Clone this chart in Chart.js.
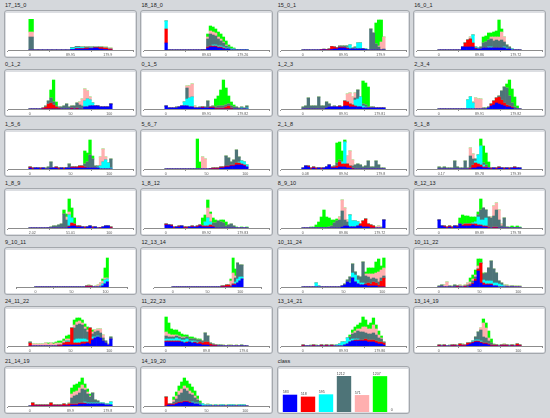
<!DOCTYPE html>
<html>
<head>
<meta charset="utf-8">
<script src="https://cdn.jsdelivr.net/npm/chart.js@4.4.1/dist/chart.umd.min.js"></script>
<style>
  body { margin: 0; width: 550px; height: 418px; overflow: hidden; position: relative;
         background: #d5d8dc; font-family: "Liberation Sans", Arial, sans-serif; }
  .ttl { position: absolute; font-size: 5.5px; line-height: 1; color: #222; white-space: nowrap; }
  .box { position: absolute; width: 131px; height: 46px; border: 1px solid #a4a8ad;
         border-radius: 3px; background: #dcdee2; }
  .box canvas { position: absolute; left: 1px; top: 2px; background: #fff; }
</style>
</head>
<body>
<script>
// class colours, bottom of the stack first
const classColors = ["#0000ff", "#ff0000", "#00ffff", "#4e7478", "#ffafaf", "#00ff00"];

// histogram heights per attribute: [blue, red, cyan, grey, pink, green]
const h17_15_0 = [
  [0,0,0,0,0,0,0,0,0,.5,1,1,1,1.5,2,1,.5,0],
  [0,0,0,0,0,0,0,0,0,0,.5,.5,1,.5,.5,1.5,1.5,1],
  [0,0,0,0,0,0,0,0,0,1.5,1,1,0,.5,0,0,0,0],
  [13,0,0,0,0,0,0,0,0,.5,1,.5,1,.5,.5,.5,0,0],
  [5,0,0,0,0,0,0,0,0,0,0,0,0,0,0,0,1,1],
  [13,0,0,0,0,0,0,0,0,0,0,0,0,0,0,0,0,0]
];
const h18_18_0 = [
  [7,0,0,0,0,0,0,0, 0,0,0,0,0,0,0,0, 2,3,3,3,2,2,1,1, 1,0,0,0,0,0,0,0],
  [14,0,0,0,0,0,0,0, 0,0,0,0,0,0,0,0, 1,1,1,1,1,1,1,0, 0,0,0,0,0,0,0,0],
  [8,0,0,0,0,0,0,0, 0,0,0,0,0,0,0,0, 0,0,1,1,1,1,1,1, 1,1,1,.5,.5,.5,.5,.5],
  [0,0,0,0,0,0,0,0, 0,0,0,0,0,0,.5,.5, 8,12,10,9,7,5,4,2, 1,0,0,0,0,0,0,0],
  [0,0,0,0,0,0,0,0, 0,0,0,0,0,0,0,0, 2,3,3,3,2,2,1,1, 0,0,0,0,0,0,0,0],
  [0,0,0,0,0,0,0,0, 0,0,0,0,0,0,0,0, 3,5,5,4,5,5,5,4, 2,2,1,0,0,0,0,0]
];
const h15_0_1 = [
  [0,0,0,0,0,0,0,0, .3,0,0,.5,1,1,2,2, 2,1,1,1,1,1,1,1, .5,0,0,0,0,0,0,0],
  [0,0,0,0,0,0,0,.5, .5,.5,1,3,2,1,1,1, .5,1,0,0,0,0,0,0, 0,0,0,0,0,0,0,0],
  [0,0,0,0,0,0,0,0, 0,0,0,0,0,0,0,0, 0,1,4,0,1,6,6,0, .5,.5,0,0,0,0,0,0],
  [0,0,0,0,0,0,0,0, 0,0,0,0,0,.5,1,1, 1.5,1,0,1,1,0,0,.5, 0,0,21,17,6,3,0,1],
  [0,0,0,0,0,0,0,0, 0,0,0,0,0,0,0,0, 0,0,0,0,0,0,0,0, 0,0,0,0,0,1,8,12],
  [0,0,0,0,0,0,0,0, 0,0,0,0,0,0,0,0, 0,0,0,0,0,0,0,0, 0,0,0,0,21,26,22,0]
];
const h16_0_1 = [
  [0,0,0,0,0,0,0,0, 0,3,3,3,3,3,1,1, 1,2,2,2,2,2,2,2, 2,2,1,1,0,0,0,0],
  [0,0,0,0,0,0,0,0, 0,0,4,7,8,4,1,0, 0,0,0,0,0,0,0,0, 0,0,0,0,0,0,0,0],
  [0,0,0,0,0,0,0,0, 0,0,0,0,0,8,1,1, 0,0,0,1,1,0,0,0, 0,1,1,0,1,0,0,0],
  [0,0,0,0,0,0,0,0, 0,0,0,0,0,0,0,0, 2,5,6,7,8,7,8,7, 8,5,3,2,0,0,0,0],
  [0,0,0,0,0,0,0,0, 0,0,0,0,2,0,0,0, 0,0,0,0,2,4,3,4, 8,5,0,0,0,0,0,0],
  [0,0,0,0,0,0,0,0, 0,0,0,0,0,0,0,0, 0,6,6,7,4,5,6,17, 3,0,0,0,0,0,0,0]
];
const h0_1_2 = [
  [0,0,0,0,0,0,0,0, 0,0,0,0,0,0,0,0, 0,0,0,0,0,2,2,3, 3,3,3,2,2,2,2,5],
  [0,0,0,0,0,1,2,5, 6,4,2,1,0,0,0,0, 1,0,1,0,0,0,0,0, 0,0,0,0,0,0,0,0],
  [0,0,0,0,0,0,0,0, 0,0,0,0,0,0,0,0, 0,0,0,0,0,6,8,6, 3,0,0,0,0,0,0,0],
  [0,0,0,0,0,0,1,3, 5,3,1,1,2,3,5,2, 2,3,5,4,3,0,0,0, 0,0,0,0,0,0,0,0],
  [0,0,0,0,0,0,0,0, 0,0,0,0,0,0,0,0, 0,0,0,3,7,12,8,3, 0,0,0,0,0,0,0,0],
  [0,0,0,0,0,0,0,0, 8,22,4,0,0,0,0,0, 0,0,0,0,0,0,0,0, 0,0,0,0,0,0,0,0]
];
const h0_1_5 = [
  [3,1,1,1,1,2,3,3, 3,2,2,1,1,1,1,1, 1,1,1,0,0,0,0,0, 0,0,0,0,0,0,0,0],
  [0,0,0,0,0,0,0,0, 0,0,0,0,0,0,1,0, 0,1,1,1,1,1,1,2, 3,1,0,0,0,0,0,0],
  [0,0,0,0,0,0,0,4, 7,9,10,0,0,0,0,0, 0,0,0,0,0,0,0,0, 0,0,0,0,0,1,0,1],
  [0,0,0,0,1,0,0,0, 11,0,0,0,0,1,0,1, 7,0,1,1,2,2,2,2, 2,2,2,2,1,1,1,2],
  [0,0,0,0,0,0,0,0, 2,12,13,2,0,0,0,0, 0,0,0,0,0,0,0,0, 0,0,0,0,0,0,0,0],
  [0,0,0,0,0,0,0,0, 0,0,0,0,0,0,0,0, 0,0,0,8,10,16,26,17, 8,4,2,0,0,0,0,0]
];
const h1_2_3 = [
  [0,0,0,0,0,0,0,0, 0,1,2,2,2,2,2,2, 3,3,2,2,2,2,2,1, 1,1,1,1,1,1,1,1],
  [0,0,0,0,0,0,0,0, 0,0,0,0,0,0,1,0, 5,4,3,2,1,0,0,0, 0,0,0,0,0,0,0,0],
  [0,0,0,0,0,0,0,0, 0,0,0,0,0,0,0,0, 0,0,0,0,6,8,10,2, 1,0,0,0,0,0,0,0],
  [2,3,11,3,3,3,12,3, 3,6,3,0,1,0,0,0, 0,0,0,0,2,9,0,2, 2,1,1,1,0,0,0,0],
  [0,0,0,0,0,0,0,0, 0,0,0,0,0,0,0,0, 0,8,11,8,5,0,0,0, 0,0,0,0,0,0,0,0],
  [0,0,0,0,0,0,0,0, 0,0,0,0,0,0,0,0, 0,0,0,0,0,0,0,23, 22,20,0,0,0,0,0,0]
];
const h2_3_4 = [
  [0,0,0,0,0,0,0,0, 0,0,0,0,0,0,0,0, 0,0,0,1,3,4,6,5, 4,3,2,2,1,0,0,0],
  [0,0,0,0,0,0,0,0, 0,0,0,0,0,0,0,0, 0,0,0,0,2,4,5,7, 5,3,2,1,1,0,0,0],
  [0,0,0,0,0,0,0,0, 0,0,0,9,12,6,0,0, 0,0,0,0,0,0,0,0, 0,0,0,0,0,0,0,0],
  [0,0,0,0,0,0,0,0, 0,0,0,0,0,0,0,0, 0,1,1,1,0,0,0,1, 9,16,17,10,4,2,0,0],
  [0,0,0,0,0,0,0,0, 0,0,0,0,0,1,11,10, 10,0,0,0,0,0,0,0, 0,0,0,0,0,0,0,0],
  [0,0,0,0,0,0,0,0, 0,0,0,0,0,0,0,0, 0,0,0,0,0,0,0,0, 0,0,4,16,14,10,3,0]
];
const h1_5_6 = [
  [1,0,1,1,0,1,0,0, 1,1,1,0,1,0,1,1, 1,1,1,1,1,1,1,1, 1,1,1,0,0,0,0,0],
  [1,1,0,0,1,0,0,0, 0,0,1,1,0,1,0,0, 1,1,1,2,2,1,0,0, 0,0,0,0,0,0,0,0],
  [0,0,0,0,0,0,0,0, 0,0,0,0,0,0,0,0, 0,0,0,0,0,0,0,0, 0,0,1,3,7,9,6,1],
  [0,0,0,0,0,0,1,2, 6,0,0,0,0,0,0,4, 0,0,0,0,0,3,6,13, 9,2,1,0,0,0,0,9],
  [0,0,0,0,0,0,0,0, 0,0,0,0,0,0,0,0, 0,0,0,0,0,0,0,0, 0,0,0,9,13,3,0,0],
  [0,0,0,0,0,0,0,0, 0,0,0,0,0,0,0,0, 0,0,0,0,0,13,9,15, 3,0,0,0,0,0,0,0]
];
const h5_6_7 = [
  [0,0,0,0,0,0,0,0, 0,0,0,0,0,0,0,0, 0,0,0,0,0,1,1,2, 2,3,3,4,4,4,3,2],
  [0,0,0,0,0,0,0,0, 0,0,0,0,0,0,0,0, 0,.5,1,1,1,1,1,1, 1,1,1,2,2,1,1,0],
  [0,0,0,0,0,0,0,0, 0,0,0,0,0,0,0,0, 0,0,0,0,0,0,0,0, 0,0,0,0,1,3,3,2],
  [0,0,0,0,0,0,0,0, 0,0,0,0,0,0,0,0, 0,0,0,0,0,0,0,10, 8,3,5,13,5,0,0,0],
  [0,0,0,0,0,0,0,0, 0,0,0,0,0,0,12,10, 0,0,0,0,0,0,0,0, 0,0,0,0,0,0,0,0],
  [0,0,0,0,0,0,0,0, 0,0,0,0,30,7,0,0, 0,0,0,0,0,0,0,0, 0,0,0,0,0,0,0,0]
];
const h2_1_8 = [
  [1,3,2,0,1,0,1,0, 1,2,4,1,1,1,2,2, 2,1,1,0,0,0,0,0, 0,0,0,0,0,0,0,0],
  [0,0,1,1,1,1,0,1, 0,0,0,1,1,2,5,3, 3,4,2,1,0,0,0,0, 0,0,0,0,0,0,0,0],
  [0,0,0,0,0,0,0,0, 0,0,0,0,0,0,0,2, 22,0,0,0,0,0,0,0, 0,0,0,0,0,0,0,0],
  [0,0,0,0,0,0,0,0, 0,0,0,0,1,3,2,0, 0,0,0,2,4,5,4,2, 3,8,2,2,8,4,1,1],
  [0,0,0,0,0,0,0,0, 0,0,0,0,0,0,0,0, 0,8,15,6,0,0,0,0, 0,0,0,0,0,0,0,0],
  [0,0,0,0,0,0,0,0, 0,0,0,0,0,20,18,11, 2,0,0,0,0,0,0,0, 0,0,0,0,0,0,0,0]
];
const h5_1_8 = [
  [0,0,0,0,0,0,0,0, 0,0,0,0,0,1,1,2, 2,1,1,1,0,1,0,1, 1,0,1,0,1,1,1,1],
  [0,0,0,0,0,0,0,0, 0,0,0,0,1,3,5,3, 2,1,1,0,1,0,1,1, 0,1,0,1,0,1,0,0],
  [0,0,0,0,0,0,0,0, 0,0,0,0,0,0,2,9, 19,2,0,0,0,0,0,0, 0,0,0,0,0,0,0,0],
  [2,1,2,1,1,1,8,2, 1,1,8,1,12,6,2,0, 0,2,2,0,0,0,0,0, 0,0,0,0,0,0,0,0],
  [0,0,0,0,0,0,0,0, 0,0,0,0,8,5,0,0, 0,0,0,0,0,0,0,0, 0,0,0,0,0,0,0,0],
  [0,0,0,0,0,0,0,0, 0,0,0,0,0,0,0,0, 7,17,12,6,0,0,0,0, 0,0,0,0,0,0,0,0]
];
const h1_8_9 = [
  [0,0,0,0,0,0,0,0, 0,0,0,0,0,0,0,1, 2,2,1,1,1,0,1,2, 0,1,0,0,1,2,2,0],
  [0,0,0,0,0,0,0,0, 0,0,0,0,0,0,0,1, 3,2,1,1,0,1,0,0, 1,0,0,.5,0,0,0,1],
  [0,0,0,0,0,0,0,0, 0,0,0,0,0,0,0,11, 5,0,0,0,0,0,0,0, 0,0,0,0,0,0,0,0],
  [0,0,0,0,0,0,0,.5, 1,2,2,3,4,14,8,0, 0,0,0,0,0,0,0,0, 0,0,0,0,0,0,0,0],
  [0,0,0,0,0,0,0,0, 0,0,0,0,0,0,3,3, 0,0,0,0,0,0,0,0, 0,0,0,0,0,0,0,0],
  [0,0,0,0,0,0,0,0, 0,0,0,0,0,4,3,13, 10,6,0,0,0,0,0,0, 0,0,0,0,0,0,0,0]
];
const h1_8_12 = [
  [3,3,2,0,1,1,2,0, 0,1,1,1,1,2,1,1, 1,1,1,0,0,0,0,0, 0,0,0,0,0,0,0,0],
  [1,0,1,1,0,1,0,1, 1,0,1,0,1,1,1,1, 1,2,1,0,0,0,0,0, 0,0,0,0,0,0,0,0],
  [0,0,0,0,0,0,0,0, 0,0,0,0,0,0,0,4, 8,3,0,0,0,0,0,0, 0,0,0,0,0,0,0,0],
  [0,0,0,0,0,0,0,0, 0,0,0,0,0,0,0,0, 0,0,3,5,7,6,5,2, 3,4,2,0,0,0,0,0],
  [0,0,0,0,0,0,0,0, 0,0,0,0,0,0,0,0, 10,8,0,0,0,0,0,0, 0,0,0,0,0,0,0,0],
  [0,0,0,0,0,0,0,0, 0,0,0,0,0,0,8,7, 8,2,5,3,0,2,3,4, 0,0,0,1,0,1,0,1]
];
const h8_9_10 = [
  [0,0,0,0,0,0,0,0, 0,0,0,0,0,0,0,1, 2,2,1,1,1,2,2,1, 1,1,0,0,0,0,0,8],
  [0,0,0,0,0,0,0,0, 0,0,0,0,0,0,0,0, 0,0,0,0,0,0,2,6, 8,3,3,2,0,0,0,0],
  [0,0,0,0,0,0,0,0, 0,0,0,0,0,0,0,0, 0,0,12,6,6,4,0,0, 0,0,0,0,0,0,0,0],
  [0,0,0,0,0,0,0,0, 0,0,1,2,5,7,8,16, 6,4,0,0,0,0,0,0, 0,0,0,0,0,0,0,0],
  [0,0,0,0,0,0,0,0, 0,0,0,0,0,0,3,11, 12,2,0,0,0,0,0,0, 0,0,0,0,1,2,1,0],
  [0,0,0,1,1,3,6,11, 18,11,9,6,3,2,0,0, 0,0,0,0,0,0,0,0, 0,0,0,0,0,0,0,0]
];
const h8_12_13 = [
  [8,2,1,0,1,0,2,1, 4,2,2,2,2,3,2,2, 2,1,1,0,0,0,0,0, 0,0,0,0,0,0,0,0],
  [0,0,1,1,1,1,0,1, 0,1,2,2,2,1,2,1, 1,1,1,1,0,1,1,0, 0,0,0,0,0,0,0,0],
  [0,0,0,0,0,0,0,0, 0,0,0,0,0,1,2,8, 5,6,8,0,0,0,0,0, 0,0,0,0,0,0,0,0],
  [0,0,0,0,0,0,0,0, 0,0,0,0,0,0,0,2, 10,12,8,10,10,11,17,8, 2,10,1,0,0,0,0,0],
  [0,0,0,0,0,0,0,0, 0,0,0,0,0,0,0,0, 0,0,0,0,1,10,7,10, 2,0,0,0,0,0,0,0],
  [0,0,0,0,0,0,0,0, 6,10,8,8,7,6,5,3, 11,0,0,0,0,0,0,0, 0,0,0,1,2,1,2,1]
];
const h9_10_11 = [
  [0,0,0,0,0,0,0,0, 0,0,0,0,0,0,0,0, 0,0,0,0,0,0,0,0, 0,0,0,0,0,1,3,5],
  [0,0,0,0,0,0,0,0, 0,0,0,0,0,0,0,0, 0,0,0,0,0,0,1,1, 1,0,0,0,0,0,0,0],
  [0,0,0,0,0,0,0,0, 0,0,0,0,0,0,0,0, 0,0,0,0,0,0,0,0, 0,0,0,0,1,2,4,3],
  [0,0,0,0,0,0,0,0, 0,0,0,0,0,0,0,0, 0,0,0,0,0,0,0,0, 0,0,0,0,0,0,0,0],
  [0,0,0,0,0,0,0,0, 0,0,0,0,0,0,0,0, 0,0,0,0,0,0,0,1, 0,.5,1,2,3,3,2,1],
  [0,0,0,0,0,0,0,0, 0,0,0,0,0,0,0,0, 0,0,0,0,0,0,0,0, 0,0,0,0,0,2,10,20]
];
const h12_13_14 = [
  [0,0,0,0,0,0,0,0, 0,0,0,0,0,0,0,0, 0,0,0,0,0,0,0,0, 0,0,0,2,2,4,6,8],
  [0,0,0,0,0,0,0,0, 0,0,0,0,0,0,0,0, 0,0,0,0,0,0,1,1, 2,2,1,1,1,0,0,0],
  [0,0,0,0,0,0,0,0, 0,0,0,0,0,0,0,0, 0,0,0,0,0,0,0,0, 0,0,0,0,2,4,4,2],
  [0,0,0,0,0,0,0,0, 0,0,0,0,0,0,0,0, 0,0,0,0,0,0,0,0, 0,0,0,0,4,16,12,12],
  [0,0,0,0,0,0,0,0, 0,0,0,0,0,0,0,0, 0,0,0,0,0,0,0,0, 0,0,5,11,2,0,0,0],
  [0,0,0,0,0,0,0,0, 0,0,0,0,0,0,0,0, 0,0,0,0,0,0,0,0, 0,0,2,15,7,0,0,0]
];
const h10_11_24 = [
  [0,0,0,0,0,0,0,0, 0,0,0,0,0,0,0,1, 2,5,4,9,5,3,2,2, 2,1,1,1,1,0,0,0],
  [0,0,0,0,0,0,0,0, 0,0,0,0,0,0,0,0, 0,0,0,0,0,0,0,0, 1,3,2,4,3,2,6,9],
  [0,0,0,0,0,4,1,0, 0,0,0,0,0,0,0,0, 0,0,1,5,7,4,2,2, 0,0,0,0,0,0,0,0],
  [0,0,0,0,0,0,0,0, 0,0,0,0,0,0,0,0, 1,2,5,9,3,4,6,21, 8,6,5,4,4,3,3,2],
  [0,0,0,0,0,0,0,0, 0,0,0,0,0,0,0,0, 0,0,0,0,0,0,0,0, 2,3,5,4,6,10,8,8],
  [0,0,0,0,0,0,0,0, 0,0,0,0,0,0,0,0, 0,0,0,0,0,0,0,0, 2,6,6,6,11,13,4,10]
];
const h10_11_22 = [
  [0,0,0,0,0,0,0,0, 0,0,0,0,1,3,6,16, 4,2,2,2,2,1,1,0, 0,0,0,0,0,0,0,0],
  [0,0,0,0,0,0,0,1, 0,0,1,0,1,1,2,2, 20,2,1,1,1,0,0,0, 0,0,0,0,0,0,0,0],
  [0,0,0,0,0,0,0,0, 0,0,0,0,0,0,0,0, 0,3,3,3,3,3,3,3, 2,1,0,0,0,0,0,0],
  [1,2,0,0,1,0,2,0, 1,0,0,2,1,2,2,0, 0,6,8,13,20,14,10,3, 2,0,1,0,1,0,0,0],
  [0,0,2,5,0,1,0,0, 1,1,1,2,2,2,2,3, 0,0,0,0,0,0,0,0, 0,1,1,1,0,1,1,1],
  [0,0,0,0,0,0,0,0, 0,0,0,0,4,4,5,7, 4,1,0,0,0,0,0,0, 0,0,0,0,0,0,0,0]
];
const h24_11_22 = [
  [0,0,0,0,0,0,0,0, 0,0,0,0,0,1,1,1, 1,1,1,1,2,2,3,2, 6,8,9,8,5,3,1,7],
  [3,0,0,0,0,0,0,0, 0,0,0,1,1,2,3,3, 17,2,2,2,2,2,1,16, 1,0,0,0,0,0,0,0],
  [0,0,0,0,0,0,0,0, 0,0,0,0,0,0,1,1, 0,3,4,4,3,3,2,0, 2,1,1,0,0,0,0,0],
  [1,0,0,0,0,0,0,0, 0,0,0,0,0,0,0,0, 0,12,14,15,14,10,8,0, 3,5,5,5,3,2,0,2],
  [0,2,2,2,2,2,3,2, 3,2,3,2,2,2,2,2, 0,3,3,3,2,2,2,0, 2,2,2,4,3,0,1,0],
  [0,0,0,0,0,0,0,1, 0,1,1,2,2,2,3,4, 0,5,4,3,3,3,3,0, 2,0,0,0,0,0,0,0]
];
const h11_22_23 = [
  [4,4,4,4,4,4,4,3, 3,4,3,3,2,2,1,1, 1,0,0,0,0,0,0,0, 0,0,0,0,0,0,0,0],
  [1,1,1,1,1,1,0,0, 1,0,0,1,1,2,2,3, 3,2,1,1,0,0,0,0, 0,0,0,0,0,0,0,0],
  [2,2,2,2,3,2,2,3, 3,1,2,1,1,0,0,0, 0,0,0,0,0,0,0,0, 0,0,0,0,0,0,0,0],
  [3,2,2,2,2,2,2,2, 2,2,2,2,2,2,2,9, 6,1,1,0,1,1,0,0, 0,0,0,0,0,1,0,0],
  [4,3,2,2,1,1,1,1, 0,0,0,0,0,0,0,0, 0,0,0,0,0,0,1,0, 1,1,0,1,0,0,0,0],
  [15,11,6,5,5,4,3,2, 2,2,2,1,1,1,0,0, 0,0,0,0,0,0,0,0, 0,0,0,0,0,0,0,0]
];
const h13_14_21 = [
  [0,0,0,0,0,0,0,0, 0,0,0,0,0,0,0,0, 1,2,4,5,5,5,5,5, 5,4,4,4,3,2,2,1],
  [1,0,0,0,1,0,0,1, 0,1,0,1,0,0,0,0, 0,0,0,0,1,1,1,1, 2,2,2,2,2,2,2,2],
  [0,0,0,0,0,0,0,0, 0,0,0,0,0,1,2,4, 3,6,2,2,1,1,0,0, 0,0,0,0,0,0,0,0],
  [0,0,0,0,0,0,0,0, 0,0,0,0,0,0,0,0, 0,0,3,5,6,8,8,8, 6,6,6,7,6,4,3,1],
  [0,0,0,1,0,1,0,0, 1,0,1,0,1,0,0,0, 0,0,0,1,2,2,3,5, 6,5,5,8,6,3,1,0],
  [0,0,0,0,0,0,0,0, 0,0,0,0,0,0,0,0, 0,0,2,3,4,4,6,10, 7,4,6,7,4,4,2,0]
];
const h13_14_19 = [
  [0,0,0,0,0,0,0,0, 0,0,0,1,2,3,4,4, 3,2,2,1,0,0,0,0, 0,0,0,0,0,0,0,0],
  [1,0,1,0,0,1,1,0, 2,1,1,2,1,1,1,1, 1,1,1,1,1,1,1,0, 1,1,1,0,1,0,2,1],
  [0,0,0,0,0,0,0,0, 0,0,0,0,0,1,1,1, 1,0,0,0,0,0,0,0, 0,0,0,0,0,0,0,0],
  [0,0,0,0,0,0,0,0, 0,0,0,0,0,0,3,8, 11,6,5,3,2,0,0,0, 0,0,0,0,0,0,0,0],
  [0,1,0,0,1,0,0,1, 0,1,0,0,0,0,0,0, 2,14,10,3,0,0,0,1, 0,1,0,1,0,1,0,0],
  [0,0,0,0,0,0,0,0, 0,0,0,0,0,0,0,0, 0,4,5,7,4,1,0,0, 0,0,0,0,0,0,0,0]
];
const h21_14_19 = [
  [0,0,0,0,0,0,0,0, 0,0,0,0,0,0,0,0, 1,1,1,2,2,2,2,2, 2,2,2,2,2,1,1,1],
  [0,3,1,1,1,1,1,1, 3,1,1,1,1,2,1,2, 1,1,1,1,1,1,0,0, 0,0,0,0,0,0,0,0],
  [0,0,0,0,0,0,0,0, 0,0,0,0,0,0,0,0, 0,0,0,0,0,1,1,1, 1,1,1,1,1,1,1,3],
  [0,0,0,0,0,0,0,0, 0,0,0,0,0,0,0,0, 6,8,9,10,14,12,9,6, 10,3,2,0,0,0,0,0],
  [0,0,0,0,0,0,0,0, 0,0,0,0,0,0,0,1, 4,4,4,5,4,2,2,1, 0,0,0,0,0,0,0,0],
  [0,0,0,0,0,0,0,0, 0,0,0,0,0,0,0,0, 6,7,7,6,7,4,3,2, 0,0,0,0,0,0,0,0]
];
const h14_19_20 = [
  [0,1,1,1,2,3,3,4, 4,3,3,2,2,1,0,0, 0,0,0,0,0,0,0,0, 0,0,0,0,0,0,0,0],
  [9,1,1,1,1,1,1,1, 1,1,0,0,0,0,0,0, 0,0,0,0,0,0,0,0, 0,0,0,0,0,0,0,0],
  [0,0,0,0,0,0,0,0, 0,0,1,1,1,1,2,1, 1,1,0,1,0,1,1,0, 1,1,1,0,1,1,1,0],
  [0,0,0,2,4,7,9,12, 10,8,7,5,3,1,0,0, 0,0,0,0,0,0,0,0, 0,0,0,0,0,0,0,0],
  [0,0,0,2,3,4,4,3, 3,3,2,2,1,0,0,0, 1,0,1,0,1,0,0,1, 0,0,0,1,0,0,0,0],
  [0,0,0,3,4,5,7,8, 7,7,6,5,3,2,0,0, 0,0,0,0,0,0,0,0, 0,0,0,0,0,0,0,0]
];

// panel titles, their data and the three x-axis tick labels
const panelNames = ["17_15_0","18_18_0","15_0_1","16_0_1","0_1_2","0_1_5","1_2_3","2_3_4",
  "1_5_6","5_6_7","2_1_8","5_1_8","1_8_9","1_8_12","8_9_10","8_12_13",
  "9_10_11","12_13_14","10_11_24","10_11_22","24_11_22","11_22_23","13_14_21","13_14_19",
  "21_14_19","14_19_20"];
const panelData = [h17_15_0,h18_18_0,h15_0_1,h16_0_1,h0_1_2,h0_1_5,h1_2_3,h2_3_4,
  h1_5_6,h5_6_7,h2_1_8,h5_1_8,h1_8_9,h1_8_12,h8_9_10,h8_12_13,
  h9_10_11,h12_13_14,h10_11_24,h10_11_22,h24_11_22,h11_22_23,h13_14_21,h13_14_19,
  h21_14_19,h14_19_20];
const panelTicks = [
  ["0","89.95","179.9"],["0","89.63","179.26"],["0","89.95","179.9"],["0","89.86","179.72"],
  ["0","50","100"],["0","89.91","179.82"],["0","89.91","179.81"],["0","89.91","179.82"],
  ["0","50","100"],["0","50","100"],["0.08","89.94","179.8"],["0.17","89.78","179.39"],
  ["2.02","51.01","100"],["0","89.92","179.83"],["0","89.86","179.72"],["0","89.89","179.78"],
  ["0","50","100"],["0","50","100"],["0","50","100"],["0","50","100"],
  ["0","50","100"],["0","89.8","179.6"],["0","89.93","179.86"],["0","50","100"],
  ["0","89.9","179.8"],["0","50","100"]
];

// class distribution (last slot is an empty class)
const classNames = ["c1","c2","c3","c4","c5","c6","c7"];
const classCounts = [583, 518, 595, 1212, 571, 1207, 0];

const FONT = "Liberation Sans";

function makePanel(index, name) {
  const col = index % 4, row = Math.floor(index / 4);
  const left = 4 + col * 136.4;
  const top = 10 + row * 59.25;

  const title = document.createElement("div");
  title.className = "ttl";
  title.style.left = (left + 1) + "px";
  title.style.top = (top - 7) + "px";
  title.textContent = name;
  document.body.appendChild(title);

  const box = document.createElement("div");
  box.className = "box";
  box.style.left = left + "px";
  box.style.top = top + "px";
  const canvas = document.createElement("canvas");
  canvas.width = 129;
  canvas.height = 43;
  box.appendChild(canvas);
  document.body.appendChild(box);
  return canvas;
}

// narrower axes on a couple of panels
const insets = { "9_10_11": [8, 6], "12_13_14": [10, 8] };

panelNames.forEach((name, p) => {
  const canvas = makePanel(p, name);
  const rows = panelData[p];
  const n = rows[0].length;
  const labels = panelTicks[p];
  const inset = insets[name] || [0, 0];

  new Chart(canvas, {
    type: "bar",
    data: {
      datasets: classColors.map((color, k) => ({
        data: rows[k].map((v, i) => ({ x: i + 0.5, y: v })),
        backgroundColor: color,
        borderWidth: 0,
        barPercentage: 1,
        categoryPercentage: 1
      }))
    },
    options: {
      responsive: false,
      animation: false,
      events: [],
      layout: { padding: { left: 2 + inset[0], right: 2 + inset[1], top: 6, bottom: 0 } },
      plugins: { legend: { display: false }, tooltip: { enabled: false } },
      scales: {
        x: {
          type: "linear",
          stacked: true,
          min: 0,
          max: n,
          afterBuildTicks: axis => { axis.ticks = [{ value: 0 }, { value: n / 2 }, { value: n }]; },
          afterFit: axis => { axis.height = 6; },
          grid: { display: true, drawOnChartArea: false, drawTicks: true, tickLength: 2, color: "#8c8c8c" },
          border: { display: true, color: "#8c8c8c", width: 1 },
          ticks: {
            font: { size: 3.6, family: FONT },
            color: "#555",
            padding: 0.5,
            maxRotation: 0,
            autoSkip: false,
            align: "inner",
            callback: (v, i) => labels[i]
          }
        },
        y: { display: false, stacked: true, min: 0, max: 31 }
      }
    }
  });
});

// class panel with counts written above the bars
const classCanvas = makePanel(26, "class");
const countLabels = {
  id: "countLabels",
  afterDatasetsDraw(chart) {
    const ctx = chart.ctx;
    const meta = chart.getDatasetMeta(0);
    ctx.save();
    ctx.font = "3.6px " + FONT;
    ctx.fillStyle = "#444";
    ctx.textAlign = "left";
    ctx.textBaseline = "bottom";
    meta.data.forEach((bar, i) => {
      ctx.fillText(String(classCounts[i]), bar.x - bar.width / 2, bar.y - 0.5);
    });
    ctx.restore();
  }
};
new Chart(classCanvas, {
  type: "bar",
  data: {
    labels: classNames,
    datasets: [{
      data: classCounts,
      backgroundColor: classColors.concat(["#000000"]),
      borderWidth: 0,
      barPercentage: 0.8,
      categoryPercentage: 1
    }]
  },
  options: {
    responsive: false,
    animation: false,
    events: [],
    layout: { padding: { left: 2, right: 1, top: 7, bottom: 0 } },
    plugins: { legend: { display: false }, tooltip: { enabled: false } },
    scales: {
      x: { display: false },
      y: { display: false, min: 0, max: Math.max(...classCounts) }
    }
  },
  plugins: [countLabels]
});
</script>
</body>
</html>
